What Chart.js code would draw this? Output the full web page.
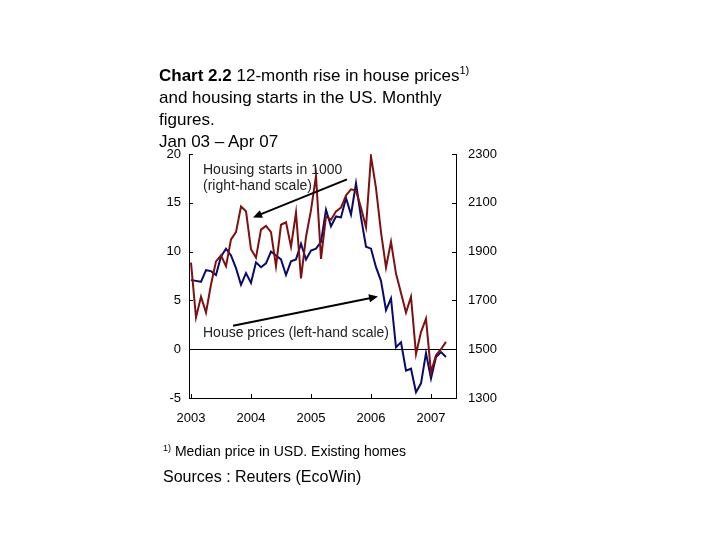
<!DOCTYPE html>
<html>
<head>
<meta charset="utf-8">
<script src="https://cdn.jsdelivr.net/npm/chart.js@4/dist/chart.umd.min.js"></script>
<style>
  body { margin: 0; background: #fff; }
  #wrap { position: relative; width: 720px; height: 540px; }
  #c { position: absolute; left: 0; top: 0; }
  .txt { position: absolute; font-family: "Liberation Sans", Arial, sans-serif; color: #000; white-space: nowrap; }
  #title { left: 159px; top: 65px; font-size: 17px; line-height: 22px; }
  #title sup { font-size: 11px; line-height: 0; vertical-align: 7px; }
  #note { left: 163px; top: 443px; font-size: 14px; }
  #note sup { font-size: 9px; vertical-align: 5px; }
  #source { left: 163px; top: 468px; font-size: 16px; }
</style>
</head>
<body>
<div id="wrap">
  <canvas id="c" width="720" height="540"></canvas>
  <div id="title" class="txt"><b>Chart 2.2</b> 12-month rise in house prices<sup>1)</sup><br>and housing starts in the US. Monthly<br>figures.<br>Jan 03 – Apr 07</div>
  <div id="note" class="txt"><sup>1)</sup> Median price in USD. Existing homes</div>
  <div id="source" class="txt">Sources : Reuters (EcoWin)</div>
</div>
<script>
// monthly, Jan 2003 - Apr 2007
var years = ['2003', '2004', '2005', '2006', '2007'];

// 12-month rise in house prices, % (left scale)
var housePrices = [7.1, 7.0, 6.9, 8.1, 8.0, 7.6, 9.5, 10.3, 9.6, 8.3,
    6.6, 7.8, 6.8, 8.9, 8.4, 8.8, 10.0, 9.6, 9.2, 7.6,
    9.0, 9.2, 10.8, 9.2, 10.1, 10.3, 11.0, 14.3, 12.6, 13.6,
    13.5, 15.5, 13.8, 17.0, 13.5, 10.5, 10.3, 8.4, 7.0, 4.0,
    5.2, 0.2, 0.7, -2.2, -2.0, -4.4, -3.5, -0.4, -3.0, -0.8,
    -0.3, -0.8];

// housing starts in 1000 (right scale)
var housingStarts = [1855, 1630, 1715, 1650, 1765, 1860, 1885, 1840, 1950, 1980,
    2085, 2065, 1910, 1875, 1990, 2005, 1980, 1840, 2010, 2020,
    1920, 2060, 1790, 1960, 2070, 2210, 1870, 2045, 2030, 2065,
    2080, 2130, 2155, 2150, 2080, 2000, 2290, 2160, 1980, 1835,
    1940, 1810, 1730, 1650, 1715, 1480, 1570, 1625, 1405, 1475,
    1500, 1530];

var leftTicks = [-5, 0, 5, 10, 15, 20];
var rightTicks = [1300, 1500, 1700, 1900, 2100, 2300];

// annotation texts and arrows, in (month, left-scale value)
var notes = [
    { text: 'Housing starts in 1000', at: [2.4, 17.9] },
    { text: '(right-hand scale)', at: [2.4, 16.3] },
    { text: 'House prices (left-hand scale)', at: [2.4, 1.3] }
];
var arrows = [
    { from: [31.2, 17.4], to: [12.4, 13.5] },
    { from: [8.4, 2.4], to: [37.4, 5.4] }
];

function toPoints(arr) {
    return arr.map(function (v, i) { return { x: i, y: v }; });
}

var FONT = '"Liberation Sans", Arial, sans-serif';

var extras = {
    id: 'extras',
    afterDraw: function (chart) {
        var ctx = chart.ctx;
        var x = chart.scales.x, y = chart.scales.y, y2 = chart.scales.y2;
        ctx.save();
        ctx.strokeStyle = '#000';
        ctx.lineWidth = 1;
        // inward tick marks
        ctx.beginPath();
        leftTicks.forEach(function (v) {
            var p = Math.round(y.getPixelForValue(v)) + 0.5;
            ctx.moveTo(x.left, p); ctx.lineTo(x.left + 4, p);
        });
        rightTicks.forEach(function (v) {
            var p = Math.round(y2.getPixelForValue(v)) + 0.5;
            ctx.moveTo(x.right, p); ctx.lineTo(x.right - 4, p);
        });
        years.forEach(function (yr, i) {
            var p = Math.round(x.getPixelForValue(i * 12)) + 0.5;
            ctx.moveTo(p, y.bottom); ctx.lineTo(p, y.bottom - 4);
        });
        ctx.stroke();

        // text notes
        ctx.fillStyle = '#222';
        ctx.font = '14px ' + FONT;
        ctx.textBaseline = 'alphabetic';
        notes.forEach(function (n) {
            ctx.fillText(n.text, x.getPixelForValue(n.at[0]), y.getPixelForValue(n.at[1]));
        });

        // arrows
        ctx.lineWidth = 2;
        ctx.fillStyle = '#000';
        arrows.forEach(function (a) {
            var x1 = x.getPixelForValue(a.from[0]), y1 = y.getPixelForValue(a.from[1]);
            var x2 = x.getPixelForValue(a.to[0]), y2p = y.getPixelForValue(a.to[1]);
            var ang = Math.atan2(y2p - y1, x2 - x1);
            ctx.beginPath();
            ctx.moveTo(x1, y1);
            ctx.lineTo(x2 - 6 * Math.cos(ang), y2p - 6 * Math.sin(ang));
            ctx.stroke();
            ctx.beginPath();
            ctx.moveTo(x2, y2p);
            ctx.lineTo(x2 - 9 * Math.cos(ang) + 4 * Math.sin(ang), y2p - 9 * Math.sin(ang) - 4 * Math.cos(ang));
            ctx.lineTo(x2 - 9 * Math.cos(ang) - 4 * Math.sin(ang), y2p - 9 * Math.sin(ang) + 4 * Math.cos(ang));
            ctx.closePath();
            ctx.fill();
        });
        ctx.restore();
    }
};

const config = {
    type: 'line',
    data: {
        datasets: [{
            label: 'Housing starts',
            data: toPoints(housingStarts),
            yAxisID: 'y2',
            borderColor: '#7d1010',
            borderWidth: 2,
            pointRadius: 0,
            tension: 0
        }, {
            label: 'House prices',
            data: toPoints(housePrices),
            yAxisID: 'y',
            borderColor: '#0a0a6a',
            borderWidth: 2,
            pointRadius: 0,
            tension: 0
        }]
    },
    options: {
        responsive: false,
        animation: false,
        layout: { padding: { left: 149, right: 204, top: 154, bottom: 112 } },
        plugins: { legend: { display: false }, tooltip: { enabled: false } },
        scales: {
            x: {
                type: 'linear',
                min: -0.4,
                max: 53,
                afterFit: function (s) { s.height = 30; },
                afterBuildTicks: function (s) {
                    s.ticks = years.map(function (yr, i) { return { value: i * 12 }; });
                },
                ticks: {
                    autoSkip: false,
                    maxRotation: 0,
                    padding: 13,
                    color: '#000',
                    font: { family: FONT, size: 13 },
                    callback: function (v) { return years[Math.round(v / 12)]; }
                },
                grid: { display: false, drawTicks: false },
                border: { display: true, color: '#000', width: 1 }
            },
            y: {
                position: 'left',
                min: -5,
                max: 20,
                afterFit: function (s) { s.width = 40; },
                ticks: {
                    stepSize: 5,
                    padding: 8,
                    color: '#000',
                    font: { family: FONT, size: 13 },
                    callback: function (v) { return String(v); }
                },
                grid: {
                    drawTicks: false,
                    color: function (c) { return c.tick && c.tick.value === 0 ? '#000' : 'rgba(0,0,0,0)'; },
                    lineWidth: 1
                },
                border: { display: true, color: '#000', width: 1 }
            },
            y2: {
                position: 'right',
                min: 1300,
                max: 2300,
                afterFit: function (s) { s.width = 60; },
                ticks: {
                    stepSize: 200,
                    padding: 12,
                    color: '#000',
                    font: { family: FONT, size: 13 },
                    callback: function (v) { return String(v); }
                },
                grid: { display: false, drawTicks: false },
                border: { display: true, color: '#000', width: 1 }
            }
        }
    },
    plugins: [extras]
};

const houseChart = new Chart(document.getElementById('c'), config);
</script>
</body>
</html>
